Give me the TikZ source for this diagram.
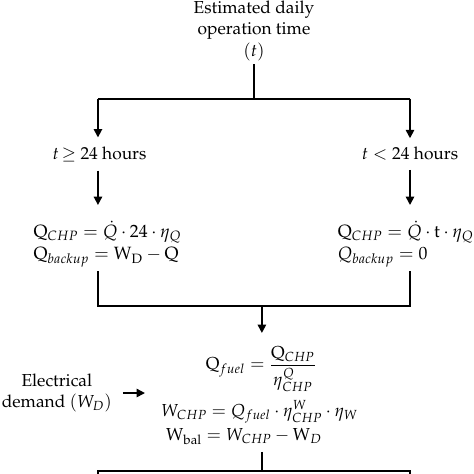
\documentclass[tikz,border=0pt]{standalone}
\usepackage[T1]{fontenc}
\usepackage{amsmath}
\usepackage{mathpazo}
\usetikzlibrary{arrows.meta}

\tikzset{
    flow/.style={->,>={Triangle[length=6pt,width=6pt]}},
    eq/.style={align=left, inner sep=2pt, font=\fontsize{12.8}{15}\selectfont}
}

\begin{document}
\begin{tikzpicture}[line width=1.2pt, every node/.style={font=\fontsize{12.5}{15.5}\selectfont}]

    \useasboundingbox (0,0) rectangle (12,12);

    % start: operating time
    \node (est) at (6.43,11.22) [align=center, inner sep=2pt] {Estimated daily\\operation time\\$(t)$};

    \coordinate (split)  at (6.43,9.50);
    \coordinate (splitL) at (2.48,9.50);
    \coordinate (splitR) at (10.38,9.50);

    \draw [] (est) -- (split);
    \draw [] (splitL) -- (splitR);

    % the two cases
    \node (geq) at (2.52,8.10) [inner sep=6pt] {$t$\,$\geq$ 24 hours};
    \node (lt)  at (10.38,8.10) [inner sep=6pt] {$t < 24$ hours};

    \draw [flow] (splitL) -- (splitL |- geq.north);
    \draw [flow] (splitR) -- (lt);

    \coordinate (tipL) at (2.48,6.81);
    \coordinate (tipR) at (10.38,6.81);

    \draw [flow] (splitL |- geq.south) -- (tipL);
    \draw [flow] (lt) -- (tipR);

    \node (eqL) at (2.72,5.81) [eq] {$\mathrm{Q}_{CHP} = \dot{Q}\cdot 24\cdot \eta_{Q}$\\[1.5pt]
                                     $\mathrm{Q}_{backup} = \mathrm{W}_{\mathrm{D}} - \mathrm{Q}$};
    \node (eqR) at (10.27,5.81) [eq] {$\mathrm{Q}_{CHP} = \dot{Q}\cdot \mathrm{t}\cdot \eta_{Q}$\\[1.5pt]
                                      $Q_{backup} = 0$};

    % merge both cases
    \coordinate (mergeL) at (2.48,4.25);
    \coordinate (merge)  at (6.63,4.25);
    \coordinate (mergeR) at (10.38,4.25);

    \draw [] (mergeL |- eqL.south) -- (mergeL) -- (mergeR) -- (lt |- eqR.south);

    % fuel and electrical balance
    \node (qfuel) at (6.61,2.66) [inner sep=1pt] {$\mathrm{Q}_{fuel} = \dfrac{\mathrm{Q}_{CHP}}{\eta^{Q}_{CHP}}$};
    \node (wchp) at (6.57,1.57) [inner sep=1pt] {$W_{CHP} = Q_{fuel}\cdot \eta^{W}_{CHP}\cdot \eta_{W}$};
    \node (wbal) at (4.15,0.95) [anchor=west, inner sep=1pt] {$\mathrm{W}_{\mathrm{bal}} = W_{CHP} - \mathrm{W}_{D}$};

    \coordinate (tipM) at (6.63,3.57);
    \draw [flow] (merge) -- (tipM);

    \node (elec) at (1.44,2.05) [align=center, inner sep=2pt] {Electrical\\demand $(W_{D})$};

    \coordinate (demandOut) at (3.11,2.05);
    \coordinate (demandIn)  at (3.67,2.05);
    \draw [flow] (demandOut) -- (demandIn);

    % next split
    \coordinate (top2)    at (6.63,0.56);
    \coordinate (split2)  at (6.63,0.08);
    \coordinate (split2L) at (2.48,0.08);
    \coordinate (split2R) at (10.38,0.08);

    \draw [] (top2) -- (split2);
    \draw [] (split2L |- 0,-0.1) -- (split2L) -- (split2R) -- (split2R |- 0,-0.1);

\end{tikzpicture}
\end{document}
